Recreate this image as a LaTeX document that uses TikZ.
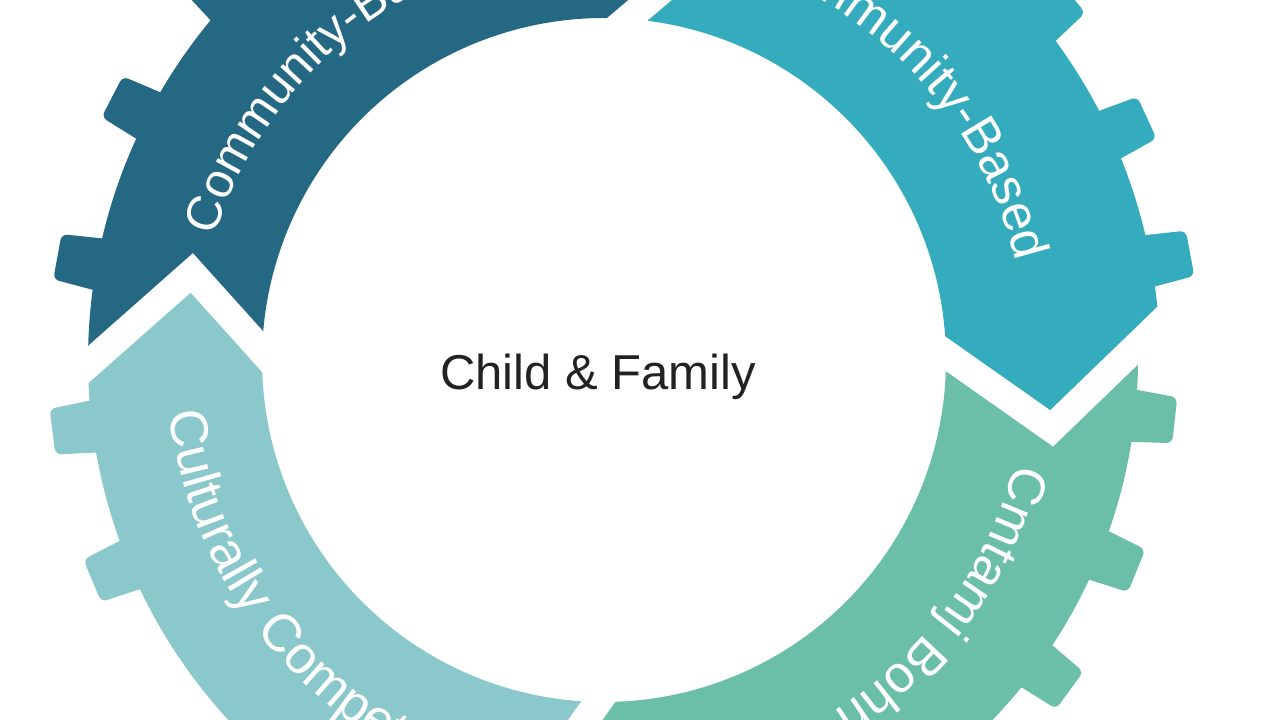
\documentclass[tikz,border=0pt]{standalone}
\usepackage{fontspec}
\setmainfont{Liberation Sans}
\usetikzlibrary{calc,decorations.text}

\definecolor{ringnavy}{RGB}{36,104,132}
\definecolor{ringteal}{RGB}{53,171,190}
\definecolor{ringsea}{RGB}{107,191,168}
\definecolor{ringmist}{RGB}{139,200,204}
\definecolor{hubtext}{RGB}{34,34,34}

\newcommand{\arcfont}[1]{\fontsize{#1}{#1}\selectfont}

% ring piece: colour, tip angle, notch angle, outer radius, outer corner offset
\newcommand{\ringpiece}[5]{%
  \fill[#1] ($(-16,0)+(#2+10:342)$) -- (#2:437) -- (#2+#5:#4)
    arc[start angle=#2+#5, end angle=#3+#5, radius=#4pt]
    -- (#3:437) -- ($(-16,0)+(#3+10:342)$)
    arc[start angle=#3+10, end angle=#2+10, radius=342pt] -- cycle;}

% cogs on the rim: colour, outer radius, angles
\newcommand{\cogs}[3]{%
  \foreach \a in {#3}
    \fill[#1, rounded corners=6pt, rotate=\a]
      (#2-12,-27) -- (#2+40,-23) -- (#2+40,23) -- (#2-12,27) -- cycle;}

\tikzset{
  gapline/.style={draw=white, line width=28pt, line join=miter},
  arclabel/.style={decorate, xshift=-8pt},
}

\begin{document}
\begin{tikzpicture}[x=1pt, y=1pt]
   \useasboundingbox (-620,-360) rectangle (660,360);
   \fill[white] (-620,-360) rectangle (660,360);
   \clip (-620,-360) rectangle (660,360);
   % Ring pieces
   \ringpiece{ringnavy}{76}{168.5}{532}{12}
   \ringpiece{ringmist}{168.5}{259}{532}{12}
   \ringpiece{ringsea}{259}{351}{518}{10.6}
   \ringpiece{ringteal}{-9}{76}{540}{12.7}
   % Cogs
   \cogs{ringnavy}{532}{137.5,152.6,169.6}
   \cogs{ringmist}{532}{187.2,202.7}
   \cogs{ringsea}{518}{-6.2,-22.2,-36.3}
   \cogs{ringteal}{540}{39,24.7,10.6}
   % Gaps between the pieces
   \foreach \b/\nm in {76/t, 168.5/l, 259/b, -9/r} {
     \coordinate (tip\nm) at (\b:437);
     \coordinate (in\nm) at ($(-16,0)+(\b+10:342)$);
     \coordinate (out\nm) at (\b+12:532);
     \draw[gapline] ($(tip\nm)!1.4!(in\nm)$) -- (tip\nm) -- ($(tip\nm)!1.25!(out\nm)$);
   }
   % Labels on the ring
   \path[arclabel, decoration={text along path, text color=white,
       text={|\arcfont{49}|Community-Based}}]
     (162.7:416) arc[start angle=162.7, end angle=60, radius=416pt];
   \path[arclabel, decoration={text along path, text color=white, text align=right,
       text={|\arcfont{51}|Community-Based}}]
     (110:416) arc[start angle=110, end angle=13.6, radius=416pt];
   \path[arclabel, decoration={text along path, text color=white,
       text={|\arcfont{53}|Culturally Competent}}]
     (186.8:446) arc[start angle=186.8, end angle=300, radius=446pt];
   \path[arclabel, decoration={text along path, text color=white,
       text={|\arcfont{52}|Cmtamj Bohn}}]
     (-14.4:416) arc[start angle=-14.4, end angle=-120, radius=416pt];
   % Centre
   \node[font=\fontsize{49}{58}\selectfont, text=hubtext, anchor=base] (hub) at (-22,-30) {Child \& Family};
\end{tikzpicture}
\end{document}
